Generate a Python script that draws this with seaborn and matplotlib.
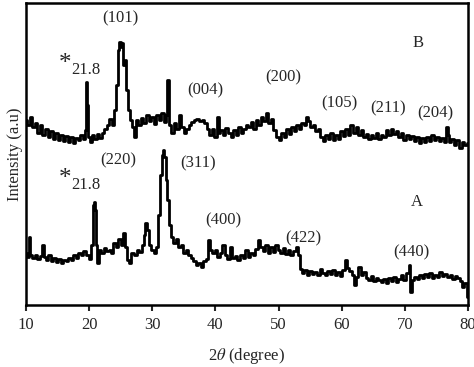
import numpy as np
import pandas as pd
import matplotlib
matplotlib.use("Agg")
import matplotlib.pyplot as plt
import seaborn as sns

# pattern B (upper trace), 2theta in degrees and intensity in arbitrary units
two_theta_b = [10.0, 10.4, 10.8, 11.2, 11.6, 12.0, 12.4, 12.8, 13.2, 13.6, 14.0, 14.4, 14.8, 15.2, 15.6,
               16.0, 16.4, 16.8, 17.2, 17.6, 18.0, 18.4, 18.8, 19.2, 19.5, 19.65, 19.8, 19.95, 20.2, 20.6,
               21.0, 21.4, 21.8, 22.2, 22.6, 23.0, 23.4, 23.8, 24.1, 24.4, 24.7, 24.9, 25.1, 25.3, 25.5,
               25.7, 26.0, 26.3, 26.6, 27.0, 27.3, 27.6, 28.0, 28.4, 28.8, 29.2, 29.6, 30.0, 30.4, 30.8,
               31.2, 31.6, 32.0, 32.3, 32.5, 32.65, 32.8, 33.2, 33.6, 34.0, 34.4, 34.8, 35.2, 35.6, 36.0,
               36.4, 36.8, 37.2, 37.6, 38.0, 38.4, 38.8, 39.2, 39.6, 40.0, 40.4, 40.6, 41.0, 41.4, 41.8,
               42.2, 42.6, 43.0, 43.4, 43.8, 44.2, 44.6, 45.0, 45.4, 45.8, 46.2, 46.6, 47.0, 47.4, 47.8,
               48.2, 48.6, 49.0, 49.4, 49.8, 50.2, 50.6, 51.0, 51.4, 51.8, 52.2, 52.6, 53.0, 53.4, 53.8,
               54.2, 54.5, 54.8, 55.2, 55.6, 56.0, 56.4, 56.8, 57.2, 57.6, 58.0, 58.4, 58.8, 59.2, 59.6,
               60.0, 60.4, 60.8, 61.2, 61.6, 62.0, 62.4, 62.8, 63.2, 63.6, 64.0, 64.4, 64.8, 65.2, 65.6,
               66.0, 66.4, 66.8, 67.2, 67.6, 68.0, 68.4, 68.8, 69.2, 69.6, 70.0, 70.4, 70.8, 71.2, 71.6,
               72.0, 72.4, 72.8, 73.2, 73.6, 74.0, 74.4, 74.8, 75.2, 75.6, 76.0, 76.4, 76.7, 76.9, 77.2,
               77.6, 78.0, 78.4, 78.8, 79.2, 79.6, 80.0]
counts_b = [185, 180, 188, 178, 182, 172, 180, 170, 176, 168, 174, 166, 172, 165, 170,
            164, 169, 163, 168, 162, 167, 165, 170, 166, 175, 223, 200, 168, 163, 170,
            166, 171, 167, 172, 176, 180, 186, 180, 195, 220, 255, 263, 258, 262, 240,
            245, 215, 195, 185, 178, 168, 185, 180, 187, 182, 190, 184, 188, 181, 190,
            185, 192, 183, 190, 225, 215, 180, 172, 182, 176, 190, 178, 172, 176, 180,
            183, 185, 186, 184, 185, 182, 176, 170, 176, 168, 188, 172, 175, 170, 177,
            172, 168, 175, 170, 178, 172, 176, 180, 178, 183, 176, 185, 180, 188, 184,
            192, 182, 186, 175, 168, 165, 172, 168, 176, 171, 178, 174, 180, 176, 182,
            180, 188, 184, 178, 180, 174, 176, 168, 164, 170, 166, 172, 165, 170, 166,
            174, 169, 176, 170, 180, 172, 178, 170, 175, 168, 171, 166, 170, 167, 172,
            166, 170, 168, 175, 170, 176, 171, 174, 168, 172, 165, 170, 166, 169, 164,
            168, 162, 167, 163, 168, 164, 170, 165, 168, 164, 167, 163, 178, 170, 163,
            166, 160, 165, 157, 163, 160, 162]

# pattern A (lower trace)
two_theta_a = [10.0, 10.3, 10.6, 10.8, 11.2, 11.6, 12.0, 12.4, 12.7, 12.9, 13.3, 13.7, 14.1, 14.5, 14.9,
               15.3, 15.7, 16.1, 16.5, 16.9, 17.3, 17.7, 18.1, 18.5, 18.9, 19.3, 19.7, 20.1, 20.5, 20.7,
               20.85, 21.0, 21.2, 21.4, 21.7, 22.1, 22.5, 22.9, 23.3, 23.7, 24.0, 24.4, 24.8, 25.2, 25.6,
               25.9, 26.2, 26.5, 26.9, 27.3, 27.7, 28.1, 28.5, 28.8, 29.0, 29.3, 29.6, 30.0, 30.4, 30.8,
               31.1, 31.4, 31.6, 31.8, 32.0, 32.2, 32.5, 32.8, 33.1, 33.5, 33.9, 34.3, 34.7, 35.1, 35.5,
               35.9, 36.3, 36.7, 37.1, 37.5, 37.9, 38.3, 38.7, 39.0, 39.3, 39.7, 40.1, 40.5, 40.9, 41.3,
               41.7, 42.1, 42.5, 42.9, 43.3, 43.7, 44.1, 44.5, 44.9, 45.3, 45.7, 46.1, 46.5, 46.9, 47.3,
               47.7, 48.1, 48.5, 48.9, 49.3, 49.7, 50.1, 50.5, 50.9, 51.3, 51.7, 52.1, 52.5, 52.9, 53.3,
               53.6, 53.9, 54.3, 54.7, 55.1, 55.5, 55.9, 56.3, 56.7, 57.1, 57.5, 57.9, 58.3, 58.7, 59.1,
               59.5, 59.9, 60.3, 60.7, 61.0, 61.4, 61.8, 62.1, 62.4, 62.8, 63.2, 63.6, 64.0, 64.4, 64.8,
               65.2, 65.6, 66.0, 66.4, 66.8, 67.2, 67.6, 68.0, 68.4, 68.8, 69.2, 69.6, 70.0, 70.4, 70.8,
               71.0, 71.3, 71.7, 72.1, 72.5, 72.9, 73.3, 73.7, 74.1, 74.5, 74.9, 75.3, 75.7, 76.1, 76.5,
               76.9, 77.3, 77.7, 78.1, 78.5, 78.9, 79.3, 79.6, 80.0]
counts_a = [52, 48, 68, 50, 47, 50, 46, 49, 60, 48, 45, 50, 44, 47, 43,
            46, 42, 45, 44, 47, 45, 50, 47, 52, 50, 54, 50, 46, 60, 100,
            103, 95, 60, 42, 55, 52, 57, 54, 55, 52, 62, 58, 66, 60, 72,
            58, 45, 42, 52, 50, 55, 53, 60, 70, 82, 75, 60, 55, 52, 58,
            90, 130, 150, 155, 148, 125, 105, 80, 68, 62, 66, 58, 60, 52, 55,
            50, 47, 44, 40, 42, 38, 44, 46, 65, 55, 52, 55, 48, 52, 60,
            50, 46, 58, 47, 49, 45, 50, 47, 55, 48, 52, 50, 56, 65, 58,
            54, 60, 52, 58, 53, 60, 55, 52, 57, 51, 55, 50, 54, 58, 50,
            36, 32, 35, 30, 34, 31, 33, 30, 36, 32, 30, 34, 31, 35, 30,
            33, 29, 35, 45, 37, 34, 30, 20, 28, 38, 30, 33, 27, 25, 29,
            24, 27, 25, 23, 26, 22, 27, 24, 28, 23, 26, 30, 25, 32, 40,
            13, 25, 28, 26, 30, 27, 31, 28, 32, 27, 30, 28, 33, 29, 31,
            28, 30, 26, 29, 27, 24, 18, 22, 8]

# peak labels: (text, 2theta, height)
labels_b = [("(101)", 24.9, 287), ("(004)", 38.4, 215), ("(200)", 50.7, 228),
            ("(105)", 59.7, 202), ("(211)", 67.3, 197), ("(204)", 74.8, 192), ("B", 72.1, 262)]
labels_a = [("(220)", 24.6, 145), ("(311)", 37.3, 142), ("(400)", 41.2, 85),
            ("(422)", 53.9, 67), ("(440)", 71.1, 53), ("A", 71.9, 103)]
star_heights = [241, 126]

sns.set_style("ticks")
plt.rcParams["font.family"] = ["Liberation Serif", "DejaVu Serif"]
plt.rcParams["mathtext.fontset"] = "stix"

df_b = pd.DataFrame({"two_theta": two_theta_b, "counts": counts_b})
df_a = pd.DataFrame({"two_theta": two_theta_a, "counts": counts_a})

fig = plt.figure(figsize=(4.74, 3.67), dpi=100)
ax = fig.add_axes([0.055, 0.169, 0.932, 0.823])
sns.lineplot(data=df_b, x="two_theta", y="counts", color="black", lw=2.0,
             drawstyle="steps-mid", ax=ax)
sns.lineplot(data=df_a, x="two_theta", y="counts", color="black", lw=2.0,
             drawstyle="steps-mid", ax=ax)

for txt, x, y in labels_b + labels_a:
    ax.text(x, y, txt, ha="center", va="center", fontsize=12)
for y in star_heights:
    ax.text(16.2, y, "*", ha="center", va="center", fontsize=18)
    ax.text(17.1, y - 6, "21.8", ha="left", va="center", fontsize=12)

ax.set_xlim(10, 80)
ax.set_ylim(0, 302)
ax.set_xticks([10, 20, 30, 40, 50, 60, 70, 80])
ax.set_yticks([])
ax.set_xlabel(r"2$\theta$ (degree)", fontsize=12, labelpad=9)
ax.set_ylabel("Intensity (a.u)", fontsize=12, labelpad=2)
ax.tick_params(axis="x", direction="out", length=4, width=1.5, labelsize=12, pad=5)
for s in ax.spines.values():
    s.set_linewidth(1.8)
    s.set_color("black")

fig.savefig("out.png", dpi=100)
